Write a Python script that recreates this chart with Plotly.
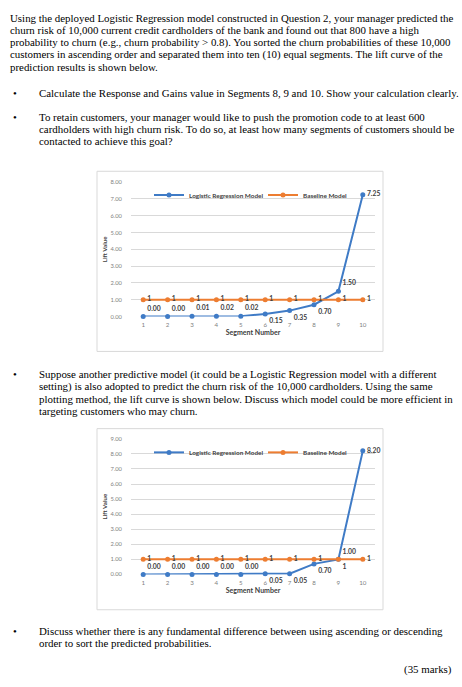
import plotly.graph_objects as go

W, H = 462, 687

# chart data
segments = [1, 2, 3, 4, 5, 6, 7, 8, 9, 10]
lift_model_a = [0.00, 0.00, 0.01, 0.02, 0.02, 0.15, 0.35, 0.70, 1.50, 7.25]
lift_model_b = [0.00, 0.00, 0.00, 0.00, 0.00, 0.05, 0.05, 0.70, 1.00, 8.20]
baseline = [1, 1, 1, 1, 1, 1, 1, 1, 1, 1]

# where the data labels sit (Excel-like placement)
pos_a = ['top right'] * 5 + ['bottom right'] * 3 + ['top right', 'middle right']
pos_b = ['top right'] * 5 + ['bottom right'] * 3 + ['top right', 'middle right']
pos_base_b = ['middle right'] * 8 + ['bottom right', 'middle right']

BLUE = '#3F7BC6'
ORANGE = '#ED7D31'
GRID = '#D9D9D9'
TICK = '#7F7F7F'
CHART_FONT = 'Lato, Liberation Sans, sans-serif'
SERIF = 'Liberation Serif, Times New Roman, serif'


def px(x):
    return x / W


def py(y):
    return 1 - y / H


fig = go.Figure()


def add_chart(n, lift, pos, pos_base):
    xa = 'x' if n == 1 else 'x%d' % n
    ya = 'y' if n == 1 else 'y%d' % n
    lg = 'legend' if n == 1 else 'legend%d' % n
    label_font = dict(family=CHART_FONT, size=6.8, color='#404040', weight='bold')
    fig.add_trace(go.Scatter(
        x=segments, y=lift, xaxis=xa, yaxis=ya, legend=lg,
        name='Logistic Regression Model', mode='lines+markers+text',
        line=dict(color=BLUE, width=2), marker=dict(color=BLUE, size=5),
        texttemplate='%{y:.2f}', textposition=pos, textfont=label_font,
        cliponaxis=False,
    ))
    fig.add_trace(go.Scatter(
        x=segments, y=baseline, xaxis=xa, yaxis=ya, legend=lg,
        name='Baseline Model', mode='lines+markers+text',
        line=dict(color=ORANGE, width=2), marker=dict(color=ORANGE, size=5),
        text=[str(v) for v in baseline], texttemplate='%{text}', textposition=pos_base,
        textfont=label_font, cliponaxis=False,
    ))


add_chart(1, lift_model_a, pos_a, ['middle right'] * 10)
add_chart(2, lift_model_b, pos_b, pos_base_b)

axis_x = dict(range=[0.5, 10.5], tickvals=segments, showgrid=False, zeroline=False,
              showline=False, ticks='', tickfont=dict(family=CHART_FONT, size=6.2, color=TICK),
              ticklabelstandoff=3,
              title=dict(text='<b>Segment Number</b>', font=dict(family=CHART_FONT, size=7, color='#404040'),
                         standoff=3))
axis_y = dict(dtick=1, tickformat='.2f', showgrid=True, gridcolor=GRID, gridwidth=1, zeroline=False,
              showline=False, ticks='', tickfont=dict(family=CHART_FONT, size=5.8, color=TICK),
              ticklabelstandoff=8,
              title=dict(text='<b>Lift Value</b>', font=dict(family=CHART_FONT, size=6.2, color='#404040'),
                         standoff=2))

legend_style = dict(orientation='h', xanchor='left', yanchor='middle',
                    font=dict(family=CHART_FONT, size=6.4, color='#404040', weight='bold'),
                    itemwidth=30, bgcolor='rgba(0,0,0,0)', entrywidth=69)

fig.update_layout(
    xaxis=dict(axis_x, domain=[px(131), px(375)], anchor='y'),
    yaxis=dict(axis_y, range=[0, 8], domain=[py(315.7), py(180)], anchor='x'),
    xaxis2=dict(axis_x, domain=[px(131), px(375)], anchor='y2'),
    yaxis2=dict(axis_y, range=[0, 9], domain=[py(576.3), py(439.3)], anchor='x2'),
    legend=dict(legend_style, x=px(149), y=py(193)),
    legend2=dict(legend_style, x=px(149), y=py(453)),
    width=W, height=H, margin=dict(l=0, r=0, t=0, b=0),
    paper_bgcolor='white', plot_bgcolor='white',
)

# chart borders
for (x0, y0, x1, y1) in [(97, 169, 383, 351), (97, 429, 383, 612)]:
    fig.add_shape(type='rect', xref='paper', yref='paper', x0=px(x0), x1=px(x1), y0=py(y1), y1=py(y0),
                  line=dict(color='#D9D9D9', width=1), fillcolor='rgba(0,0,0,0)', layer='below')

# question text
para = [
    'Using the deployed Logistic Regression model constructed in Question 2, your manager predicted the',
    'churn risk of 10,000 current credit cardholders of the bank and found out that 800 have a high',
    'probability to churn (e.g., churn probability > 0.8). You sorted the churn probabilities of these 10,000',
    'customers in ascending order and separated them into ten (10) equal segments. The lift curve of the',
    'prediction results is shown below.',
]
bullets = [
    (90, ['Calculate the Response and Gains value in Segments 8, 9 and 10. Show your calculation clearly.']),
    (114, ['To retain customers, your manager would like to push the promotion code to at least 600',
           'cardholders with high churn risk. To do so, at least how many segments of customers should be',
           'contacted to achieve this goal?']),
    (374, ['Suppose another predictive model (it could be a Logistic Regression model with a different',
           'setting) is also adopted to predict the churn risk of the 10,000 cardholders. Using the same',
           'plotting method, the lift curve is shown below. Discuss which model could be more efficient in',
           'targeting customers who may churn.']),
    (633, ['Discuss whether there is any fundamental difference between using ascending or descending',
           'order to sort the predicted probabilities.']),
]

LINE = 12.4
FS = 10.9


def text(x, y, s, anchor='left'):
    fig.add_annotation(x=px(x), y=py(y), xref='paper', yref='paper', text=s, showarrow=False,
                       xanchor=anchor, yanchor='middle', font=dict(family=SERIF, size=FS, color='black'))


for i, line in enumerate(para):
    text(8, 14 + i * LINE, line)

for y0, lines in bullets:
    text(11, y0, '•')
    for i, line in enumerate(lines):
        text(37, y0 + i * LINE, line)

text(454, 672, '(35 marks)', anchor='right')

# body has an 8px default margin in the browser; drop it so the page lines up
fig.write_html('out.html', config={'displayModeBar': False},
               post_script="document.body.style.margin='0px';")
